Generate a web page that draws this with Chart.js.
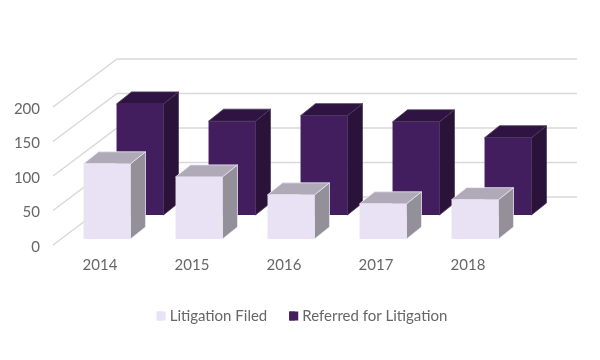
<!DOCTYPE html>
<html>
<head>
<meta charset="utf-8">
<title>Litigation</title>
<style>
    html, body { margin: 0; padding: 0; background: #fff; }
    canvas { display: block; }
</style>
<script src="https://cdn.jsdelivr.net/npm/chart.js@4/dist/chart.umd.min.js"></script>
</head>
<body>
<canvas id="chart" width="600" height="360"></canvas>
<script>
const years = ['2014', '2015', '2016', '2017', '2018'];
const litigationFiled = [109, 90, 64, 51, 57];
const referredForLitigation = [161, 136, 144, 135, 112];

// the "3d" look: floor runs back by wall, each series sits at its own depth
const wall = { dx: 64, dy: 48 };
const barDepth = { dx: 15, dy: 12 };
const seriesLook = [
    { dx: 8, dy: 6, side: '#939099', top: '#b0a9b7', edge: '#eee8f7' },
    { dx: 41, dy: 30, side: '#2a1238', top: '#2f1443', edge: '#4a3a58' }
];
const legendBox = 9;

const fake3d = {
    id: 'fake3d',
    beforeDatasetsDraw(chart) {
        const { ctx, chartArea, scales } = chart;
        ctx.save();
        ctx.strokeStyle = '#d9d9d9';
        ctx.lineWidth = 1.5;
        scales.y.ticks.forEach(tick => {
            const y = scales.y.getPixelForValue(tick.value);
            ctx.beginPath();
            ctx.moveTo(chartArea.left, y);
            ctx.lineTo(chartArea.left + wall.dx, y - wall.dy);
            ctx.lineTo(chartArea.right + wall.dx, y - wall.dy);
            ctx.stroke();
        });
        ctx.restore();
    },
    beforeDatasetDraw(chart, args) {
        const { ctx } = chart;
        const look = seriesLook[args.index];
        ctx.save();
        ctx.translate(look.dx, -look.dy);
        chart.getDatasetMeta(args.index).data.forEach(bar => {
            const right = bar.x + bar.width / 2;
            const left = bar.x - bar.width / 2;
            ctx.lineWidth = 0.8;
            ctx.strokeStyle = look.edge;

            ctx.fillStyle = look.side;
            ctx.beginPath();
            ctx.moveTo(right, bar.y);
            ctx.lineTo(right + barDepth.dx, bar.y - barDepth.dy);
            ctx.lineTo(right + barDepth.dx, bar.base - barDepth.dy);
            ctx.lineTo(right, bar.base);
            ctx.closePath();
            ctx.fill();
            ctx.stroke();

            ctx.fillStyle = look.top;
            ctx.beginPath();
            ctx.moveTo(left, bar.y);
            ctx.lineTo(left + barDepth.dx, bar.y - barDepth.dy);
            ctx.lineTo(right + barDepth.dx, bar.y - barDepth.dy);
            ctx.lineTo(right, bar.y);
            ctx.closePath();
            ctx.fill();
            ctx.stroke();
        });
    },
    afterDatasetDraw(chart) {
        chart.ctx.restore();
    },
    // legend text sits closer to its square than chart.js allows, so the native
    // box is kept narrow and widened here
    afterDraw(chart) {
        const { ctx, legend } = chart;
        legend.legendHitBoxes.forEach((box, i) => {
            ctx.fillStyle = legend.legendItems[i].fillStyle;
            ctx.fillRect(box.left, box.top + (box.height - legendBox) / 2, legendBox, legendBox);
        });
    }
};

new Chart(document.getElementById('chart'), {
    type: 'bar',
    data: {
        labels: years,
        datasets: [
            { label: 'Litigation Filed', data: litigationFiled, backgroundColor: '#e9e2f4', grouped: false, clip: false },
            { label: 'Referred for Litigation', data: referredForLitigation, backgroundColor: '#431e5e', grouped: false, clip: false }
        ]
    },
    options: {
        responsive: false,
        animation: false,
        barPercentage: 0.51,
        categoryPercentage: 1,
        layout: { padding: { top: 107, bottom: 26.5, left: 4 } },
        plugins: {
            tooltip: { enabled: false },
            legend: {
                position: 'bottom',
                labels: { boxWidth: 5.5, boxHeight: legendBox, padding: 22, color: '#666666', font: { family: 'Lato', size: 15 } }
            }
        },
        scales: {
            x: {
                grid: { display: false, drawTicks: false },
                border: { display: false },
                ticks: { padding: 11, labelOffset: 1, color: '#666666', font: { family: 'Lato', size: 15 } },
                afterFit(scale) { scale.height = 41.5; }
            },
            y: {
                min: 0,
                max: 200,
                grid: { display: false, drawTicks: false },
                border: { display: false },
                ticks: { stepSize: 50, padding: 13, labelOffset: 2, color: '#666666', font: { family: 'Lato', size: 15 } },
                afterFit(scale) { scale.width = 49; }
            },
            // empty box that reserves the room the floor runs back into
            spacer: {
                position: 'right',
                grid: { display: false },
                border: { display: false },
                ticks: { display: false },
                afterFit(scale) { scale.width = 87; }
            }
        }
    },
    plugins: [fake3d]
});
</script>
</body>
</html>
